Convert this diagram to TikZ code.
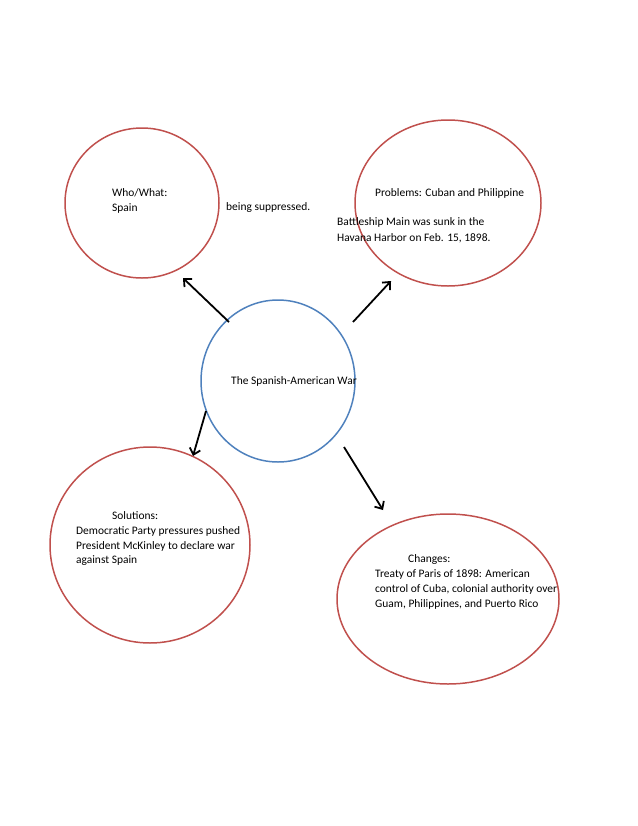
\documentclass[tikz,border=0pt]{standalone}
\usepackage{fontspec}
\setmainfont{Carlito}
\usetikzlibrary{arrows.meta}
\definecolor{cred}{RGB}{192,80,77}
\definecolor{cblue}{RGB}{79,129,189}
\begin{document}
\begin{tikzpicture}[x=1bp,y=-1bp,
  redc/.style={draw=cred,line width=1.5pt},
  bluec/.style={draw=cblue,line width=1.5pt},
  txt/.style={anchor=west,inner sep=0pt,font=\fontsize{11.5}{13}\selectfont},
  arr/.style={-{Straight Barb[length=6pt,width=11pt]},line width=1.8pt}]
\useasboundingbox (0,0) rectangle (638,826);
\draw[redc] (142,203) ellipse [x radius=77,y radius=75];
\draw[redc] (448,203) ellipse [x radius=93,y radius=83];
\draw[bluec] (278,381) ellipse [x radius=77,y radius=81];
\draw[redc] (150,545) ellipse [x radius=100,y radius=98];
\draw[redc] (448,599) ellipse [x radius=111,y radius=85];
\coordinate (a1) at (229,322); \coordinate (b1) at (183,278);
\coordinate (a2) at (353,322); \coordinate (b2) at (391,281);
\coordinate (a3) at (206,411); \coordinate (b3) at (193,456);
\coordinate (a4) at (344,447); \coordinate (b4) at (383,510);
\draw[arr] (a1) -- (b1);
\draw[arr] (a2) -- (b2);
\draw[arr] (a3) -- (b3);
\draw[arr] (a4) -- (b4);
\node[txt] (t1) at (112,193) {Who/What:};
\node[txt] (t2) at (112,208) {Spain};
\node[txt] (t3) at (226,208) {being suppressed.};
\node[txt] (t4) at (375,193) {Problems: Cuban and Philippine};
\node[txt] (t5) at (337,222) {Battleship Main was sunk in the};
\node[txt] (t6) at (337,238) {Havana Harbor on Feb. 15, 1898.};
\node[txt] (t7) at (231,381) {The Spanish-American War};
\node[txt] (t8) at (112,516) {Solutions:};
\node[txt] (t9) at (76,531) {Democratic Party pressures pushed};
\node[txt] (t10) at (76,546) {President McKinley to declare war};
\node[txt] (t11) at (76,561) {against Spain};
\node[txt] (t12) at (408,559) {Changes:};
\node[txt] (t13) at (375,574) {Treaty of Paris of 1898: American};
\node[txt] (t14) at (375,589) {control of Cuba, colonial authority over};
\node[txt] (t15) at (375,604) {Guam, Philippines, and Puerto Rico};
\end{tikzpicture}
\end{document}
